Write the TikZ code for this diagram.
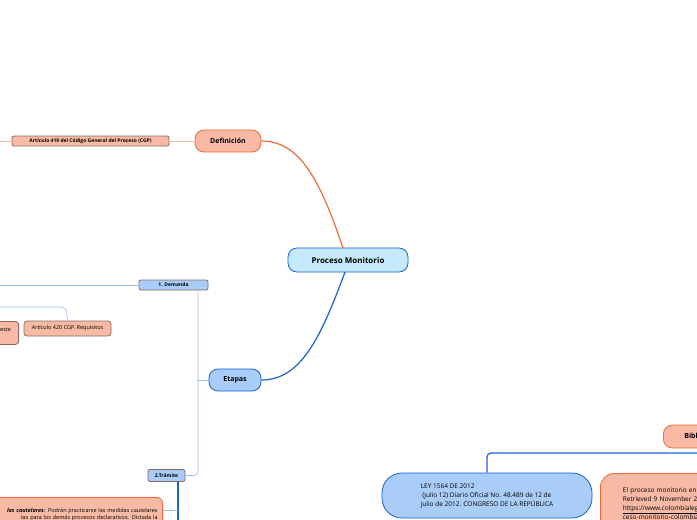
\documentclass[tikz,border=0pt]{standalone}
\usepackage{fontspec}
\setmainfont{Open Sans}
\definecolor{salf}{HTML}{F8B9A5}
\definecolor{salb}{HTML}{F06A3C}
\definecolor{bluf}{HTML}{A9CCF8}
\definecolor{blub}{HTML}{1A62D0}
\definecolor{cyf}{HTML}{C4EAFB}
\definecolor{lb}{HTML}{9DC1EE}
\definecolor{grb}{HTML}{8A6A62}
\begin{document}
\begin{tikzpicture}[x=1pt,y=-1pt,
  box/.style={draw,rounded corners=#1,line width=0.8pt,inner sep=0pt,align=center},
  small/.style={font=\fontsize{5.5}{6}\selectfont}]
\useasboundingbox (0,0) rectangle (697,520);
\clip (0,0) rectangle (697,520);
\fill[white] (0,0) rectangle (697,520);
\node[box=9pt,fill=cyf,draw=blub,minimum width=120pt,minimum height=24pt,font=\bfseries\fontsize{8}{10}\selectfont] (pm) at (348,260) {Proceso Monitorio};
\node[box=9pt,fill=salf,draw=salb,minimum width=66pt,minimum height=22pt,font=\bfseries\fontsize{7}{9}\selectfont] (def) at (228,141) {Definición};
\node[box=2pt,fill=salf,draw=grb,minimum width=157pt,minimum height=10pt,font=\bfseries\fontsize{5}{5}\selectfont] (a419) at (90.5,141) {Artículo 419 del Código General del Proceso (CGP)};
\node[box=9pt,fill=bluf,draw=blub,minimum width=52pt,minimum height=22pt,font=\bfseries\fontsize{7}{9}\selectfont] (eta) at (235,380) {Etapas};
\draw[salb,line width=1.2pt] (343,248) .. controls (320,180) and (300,141) .. (def.east);
\draw[blub,line width=1.2pt] (345,272) .. controls (320,340) and (300,380) .. (eta.east);
\draw[salf,line width=0.8pt] (a419.east) -- (def.west);
\draw[salf,line width=0.8pt] (0,141) -- (a419.west);
\node[box=2pt,fill=bluf,draw=grb,minimum width=69pt,minimum height=10pt,font=\bfseries\fontsize{5}{5}\selectfont] (dem) at (173.5,285) {1. Demanda};
\node[box=2pt,fill=bluf,draw=grb,minimum width=37pt,minimum height=12pt,font=\bfseries\fontsize{5}{5}\selectfont] (tra) at (166.5,475.5) {2.Trámite};
\coordinate (vx) at (198,380);
\draw[lb,line width=0.7pt,rounded corners=4pt] (dem.east) -- (198,285) -- (198,475.5) -- (tra.east);
\draw[lb,line width=0.7pt] (eta.west) -- (vx);
\draw[lb,line width=0.7pt] (0,285) -- (dem.west);
\node[box=3pt,fill=salf,draw=grb,minimum width=87pt,minimum height=15pt,small] (a420) at (67.5,328.5) {Artículo 420 CGP. Requisitos};
\node[box=3pt,fill=salf,draw=grb,minimum width=50pt,minimum height=23pt,small,anchor=north east] (este) at (19,321) {\hspace*{24pt}este\\ \ };
\draw[lb,line width=0.7pt,rounded corners=4pt] (0,307) -- (66,307) -- (a420.north);
\draw[blub,line width=1.2pt] (tra.south -| 178,0) -- (178,520);
\node[box=6pt,fill=salf,draw=salb,anchor=north east,minimum width=210pt,minimum height=40pt,font=\fontsize{5.5}{7.5}\selectfont,align=left,text width=200pt] (caut) at (163,497) {\hfill\textbf{\textit{las cautelares:}} Podrán practicarse las medidas cautelares\\ \hfill tas para los demás procesos declarativos. Dictada la\\ \ };
\draw[lb,line width=0.7pt] (caut.east |- 0,510) -- (178,510);
\node[box=9pt,fill=salf,draw=salb,anchor=west,minimum width=70pt,minimum height=23pt,font=\bfseries\fontsize{7}{9}\selectfont,align=left] (bib) at (663,436.5) {\hspace*{12pt}Bibliografía\hfill};
\node[box=20pt,fill=bluf,draw=blub,minimum width=210pt,minimum height=45pt,font=\fontsize{6.5}{9}\selectfont,align=left] (ley) at (487,495.5) {LEY 1564 DE 2012\\ \ (julio 12) Diario Oficial No. 48.489 de 12 de\\julio de 2012. CONGRESO DE LA REPÚBLICA};
\node[box=14pt,fill=salf,draw=salb,anchor=north west,minimum width=140pt,minimum height=60pt,font=\fontsize{6.5}{9}\selectfont,align=left,text width=125pt] (epm) at (600,473) {\hspace*{15pt}El proceso monitorio en Colombia.\\\hspace*{15pt}Retrieved 9 November 2020, from\\\hspace*{15pt}\underline{https://www.colombialegal}\\\hspace*{15pt}ceso-monitorio-colombia};
\draw[blub,line width=1.2pt,rounded corners=4pt] (ley.north) -- (487,453) -- (697,453);
\end{tikzpicture}
\end{document}
